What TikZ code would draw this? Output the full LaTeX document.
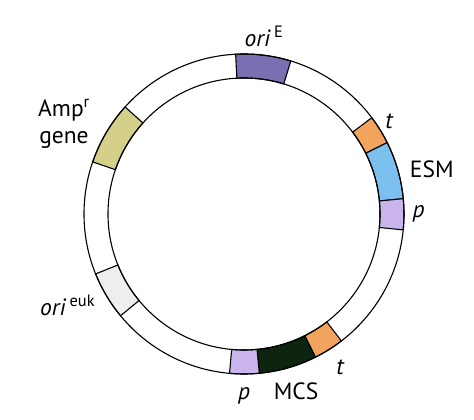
\documentclass[tikz,border=0pt]{standalone}
\usepackage{fontspec}
\setmainfont{PT Sans}

\definecolor{oriEcol}{HTML}{7A6FB0}
\definecolor{tcol}{HTML}{F2A45E}
\definecolor{esmcol}{HTML}{7CC0F0}
\definecolor{pcol}{HTML}{C9B4EC}
\definecolor{mcscol}{HTML}{0C2410}
\definecolor{ampcol}{HTML}{D4D08A}
\definecolor{eukcol}{HTML}{EEEEEE}

\tikzset{
  ring/.style={line width=1.1pt},
  segment/.style={line width=1.1pt, draw=black},
  lbl/.style={inner sep=0pt, anchor=base, font=\fontsize{23.5}{27}\selectfont}
}

\begin{document}
\begin{tikzpicture}[x=1pt, y=1pt]
\useasboundingbox (0,0) rectangle (474,420);

\begin{scope}[shift={(244,206)}]
% coloured pieces of the ring: start angle / end angle / colour
\foreach \a/\b/\c in {73/93/oriEcol, 26.5/37/tcol, 5.5/26.5/esmcol, -5.7/5.5/pcol,
    -63.5/-52.5/tcol, -84.5/-63.5/mcscol, -95.2/-84.5/pcol,
    138/161/ampcol, 202/219.5/eukcol}
  \draw[segment, fill=\c] (\a:136) -- (\a:160) arc[start angle=\a, end angle=\b, radius=160]
    -- (\b:136) arc[start angle=\b, end angle=\a, radius=136] -- cycle;
\draw[ring] (0,0) circle[radius=160];
\draw[ring] (0,0) circle[radius=136];
\end{scope}

\node[lbl] (oriE) at (264, 373.2) {\itshape ori\,\upshape\textsuperscript{E}};
\node[lbl] (ttop) at (389, 291.2) {\itshape t};
\node[lbl] (esm) at (431.8, 242.7) {ESM};
\node[lbl] (pright) at (418.6, 202.6) {\itshape p};
\node[lbl] (tbot) at (340, 45.4) {\itshape t};
\node[lbl] (mcs) at (296, 20.3) {MCS};
\node[lbl] (pbot) at (244, 20.3) {\itshape p};
\node[lbl] (orieuk) at (67.7, 104) {\itshape ori\,\upshape\textsuperscript{euk}};
\node[lbl, anchor=center, align=center] (amp) at (64, 296) {Amp\textsuperscript{r}\\gene};
\end{tikzpicture}
\end{document}
